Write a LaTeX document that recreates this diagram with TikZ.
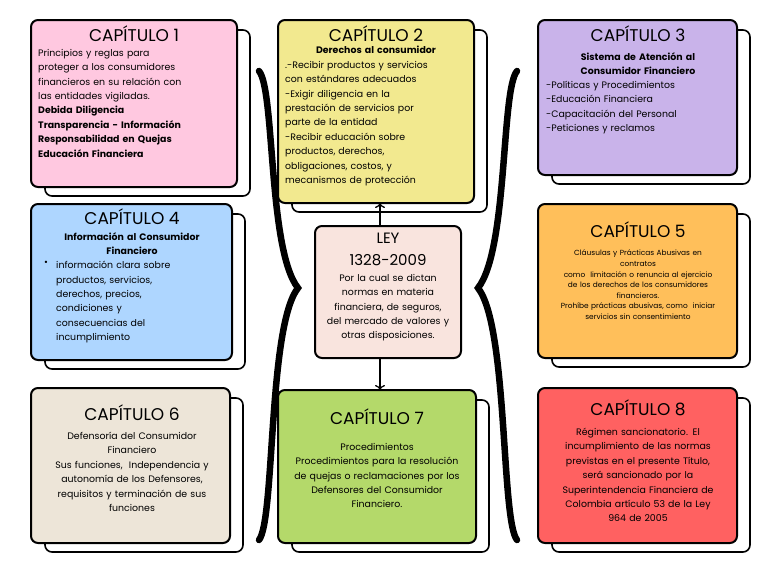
\documentclass[tikz,border=0pt]{standalone}
\usepackage{fontspec}
\setmainfont{Poppins}
\usetikzlibrary{arrows.meta}
\begin{document}
\begin{tikzpicture}[x=1pt,y=-1pt,
  card/.style={draw=black,line width=2pt,rounded corners=7pt},
  shade/.style={draw=black,line width=1.6pt,rounded corners=7pt,fill=white},
  ttl/.style={font=\fontsize{17}{19}\selectfont,anchor=north,inner sep=0pt},
  body/.style={font=\fontsize{9.4}{14.4}\selectfont,anchor=north,inner sep=0pt},
  brace/.style={line width=6.5pt,line cap=round},
  arr/.style={line width=1.3pt,-{To[length=5pt,width=10pt]}}]
\useasboundingbox (0,0) rectangle (768,576);
\definecolor{cA}{HTML}{FFC8E0}\definecolor{cB}{HTML}{F2E98F}
\definecolor{cC}{HTML}{C9B3EA}\definecolor{cD}{HTML}{AED6FF}
\definecolor{cL}{HTML}{F9E4DE}\definecolor{cE}{HTML}{FFBF5A}
\definecolor{cF}{HTML}{EDE5D8}\definecolor{cG}{HTML}{B4D96A}
\definecolor{cH}{HTML}{FF6161}
% shadows
\foreach \a/\b/\c/\d in {31/20/237/187,278/20/474/203,538/20/737/175,31/204/232/360,538/204/737/358,31/388/230/543,278/390/476/543,538/388/737/543}
  \draw[shade] (\a+14,\b+10) rectangle (\c+13,\d+9);
% cards
\draw[card,fill=cA] (31,20) rectangle (237,187) node[midway] (b1) {};
\draw[card,fill=cB] (278,20) rectangle (474,203) node[midway] (b2) {};
\draw[card,fill=cC] (538,20) rectangle (737,175) node[midway] (b3) {};
\draw[card,fill=cD] (31,204) rectangle (232,360) node[midway] (b4) {};
\draw[card,fill=cE] (538,204) rectangle (737,358) node[midway] (b5) {};
\draw[card,fill=cF] (31,388) rectangle (230,543) node[midway] (b6) {};
\draw[card,fill=cG] (278,390) rectangle (476,543) node[midway] (b7) {};
\draw[card,fill=cH] (538,388) rectangle (737,543) node[midway] (b8) {};
\node[card,fill=cL,minimum width=146pt,minimum height=132pt] (ley) at (388,292) {};
% braces
\draw[brace] (259,71) .. controls (275,90) and (268,250) .. (298,288) .. controls (268,326) and (275,520) .. (259,540);
\draw[brace] (517,71) .. controls (501,90) and (508,250) .. (478,288) .. controls (508,326) and (501,520) .. (517,540);
% arrows
\coordinate (t2) at (380,203); \coordinate (t7) at (380,390);
\draw[arr] (ley.north -| t2) -- (t2);
\draw[arr] (ley.south -| t7) -- (t7);
% texts
\node[ttl] (h1) at (134,26) {CAPÍTULO 1};
\node[body,anchor=north west,text width=196pt,align=left] (x1) at (38,49) {Principios y reglas para\\ proteger a los consumidores\\ financieros en su relación con\\ las entidades vigiladas.\\ \textbf{Debida Diligencia}\\ \textbf{Transparencia - Información}\\ \textbf{Responsabilidad en Quejas}\\ \textbf{Educación Financiera}};
\node[ttl] (h2) at (376,26) {CAPÍTULO 2};
\node[body,text width=190pt,align=center] (y2) at (376,46) {\textbf{Derechos al consumidor}};
\node[body,anchor=north west,text width=190pt,align=left] (x2) at (285,61) {.-Recibir productos y servicios\\ con estándares adecuados\\ -Exigir diligencia en la\\ prestación de servicios por\\ parte de la entidad\\ -Recibir educación sobre\\ productos, derechos,\\ obligaciones, costos, y\\ mecanismos de protección};
\node[ttl] (h3) at (638,26) {CAPÍTULO 3};
\node[body,text width=190pt,align=center] (y3) at (638,52) {\textbf{Sistema de Atención al}\\ \textbf{Consumidor Financiero}};
\node[body,anchor=north west,text width=190pt,align=left] (x3) at (546,81) {-Políticas y Procedimientos\\ -Educación Financiera\\ -Capacitación del Personal\\ -Peticiones y reclamos};
\node[ttl] (h4) at (132,209) {CAPÍTULO 4};
\node[body,text width=190pt,align=center] (y4) at (132,232) {\textbf{Información al Consumidor}\\ \textbf{Financiero}};
\node[body,anchor=north west,text width=170pt,align=left] (x4) at (56,261) {información clara sobre\\ productos, servicios,\\ derechos, precios,\\ condiciones y\\ consecuencias del\\ incumplimiento};
\node[body,anchor=north west] (d4) at (44,261) {•};
\node[ttl] (h5) at (638,222) {CAPÍTULO 5};
\node[body,font=\fontsize{7.4}{10.6}\selectfont,text width=200pt,align=center] (x5) at (638,250) {Cláusulas y Prácticas Abusivas en\\ contratos\\ como\ \ limitación o renuncia al ejercicio\\ de los derechos de los consumidores\\ financieros.\\ Prohíbe prácticas abusivas, como\ \ iniciar\\ servicios sin consentimiento};
\node[ttl] (h6) at (132,405) {CAPÍTULO 6};
\node[body,text width=200pt,align=center] (x6) at (132,432) {Defensoría del Consumidor\\ Financiero\\ Sus funciones,\ \ Independencia y\\ autonomía de los Defensores,\\ requisitos y terminación de sus\\ funciones};
\node[ttl] (h7) at (377,409) {CAPÍTULO 7};
\node[body,text width=196pt,align=center] (x7) at (377,443) {Procedimientos\\ Procedimientos para la resolución\\ de quejas o reclamaciones por los\\ Defensores del Consumidor\\ Financiero.};
\node[ttl] (h8) at (638,400) {CAPÍTULO 8};
\node[body,text width=196pt,align=center] (x8) at (638,428) {Régimen sancionatorio. El\\ incumplimiento de las normas\\ previstas en el presente Título,\\ será sancionado por la\\ Superintendencia Financiera de\\ Colombia artículo 53 de la Ley\\ 964 de 2005};
\node[ttl,font=\fontsize{15}{22}\selectfont,align=center] (hl) at (388,233) {LEY\\1328-2009};
\node[body,text width=146pt,align=center] (xl) at (388,274) {Por la cual se dictan\\ normas en materia\\ financiera, de seguros,\\ del mercado de valores y\\ otras disposiciones.};
\end{tikzpicture}
\end{document}
